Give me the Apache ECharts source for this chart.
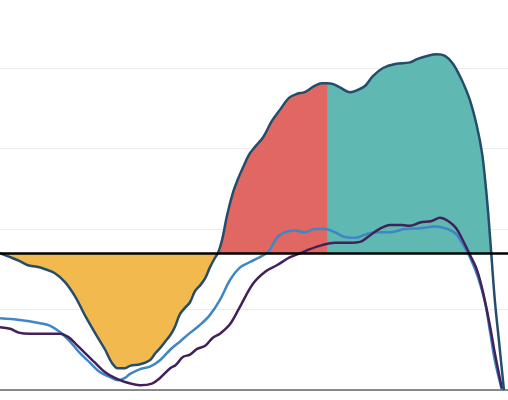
<!DOCTYPE html>
<html>
<head>
<meta charset="utf-8">
<script src="https://cdn.jsdelivr.net/npm/echarts@6/dist/echarts.min.js"></script>
<style>
  html, body { margin: 0; padding: 0; background: #fff; }
  #main { width: 508px; height: 400px; }
</style>
</head>
<body>
<div id="main"></div>
<script>
// reference level (black line)
var BASE = 1.70;
var Y_MAX = 4.845;

// dark curve (the filled one)
var darkX = [0, 2.0, 3.9, 5.5, 7.3, 8.9, 10.8, 12.8, 14.8, 16.7, 18.7, 20.7, 22.0, 23.2, 24.6, 25.6,
  27.6, 29.5, 30.5, 31.5, 32.5, 33.5, 34.4, 35.4, 36.4, 37.4, 38.4, 39.4, 40.4, 41.3, 42.3, 42.9,
  43.7, 44.7, 45.9, 46.9, 47.8, 49.0, 50.2, 51.8, 53.5, 55.1, 56.9, 58.5, 60.0, 62.0, 63.4, 64.4,
  65.6, 66.9, 68.9, 70.5, 71.9, 73.4, 75.4, 77.8, 80.7, 82.1, 84.1, 86.0, 87.6, 89.2, 90.9, 92.5,
  93.9, 94.9, 95.5, 96.1, 96.7, 97.4, 98.4, 99.2];
var darkY = [1.70, 1.65, 1.60, 1.55, 1.53, 1.50, 1.45, 1.34, 1.16, 0.93, 0.71, 0.50, 0.34, 0.27, 0.27, 0.30,
  0.32, 0.37, 0.45, 0.52, 0.60, 0.68, 0.78, 0.94, 1.02, 1.09, 1.23, 1.30, 1.39, 1.52, 1.64, 1.70,
  1.86, 2.17, 2.46, 2.63, 2.76, 2.92, 3.02, 3.14, 3.34, 3.48, 3.63, 3.68, 3.70, 3.78, 3.81, 3.81,
  3.80, 3.76, 3.70, 3.73, 3.78, 3.90, 4.00, 4.05, 4.07, 4.11, 4.15, 4.17, 4.15, 4.05, 3.85, 3.60,
  3.27, 2.94, 2.61, 2.20, 1.70, 1.12, 0.50, 0];

// light blue curve
var blueX = [0, 3.9, 7.9, 9.8, 11.8, 13.8, 15.7, 17.7, 19.7, 21.7, 23.2, 24.6, 25.6, 27.6, 29.5, 31.5,
  33.5, 35.4, 37.4, 39.4, 41.3, 43.3, 45.3, 47.2, 49.2, 50.8, 52.2, 53.1, 54.5, 56.1, 58.1, 60.0,
  62.0, 64.0, 65.9, 67.9, 69.9, 71.9, 73.8, 76.8, 79.7, 82.7, 85.6, 87.6, 89.6, 90.9, 92.5, 94.1,
  95.5, 96.5, 97.4, 98.8];
var blueY = [0.89, 0.87, 0.83, 0.80, 0.72, 0.60, 0.46, 0.34, 0.22, 0.16, 0.12, 0.15, 0.20, 0.26, 0.29, 0.37,
  0.50, 0.60, 0.71, 0.81, 0.93, 1.12, 1.37, 1.52, 1.59, 1.64, 1.69, 1.74, 1.89, 1.96, 1.98, 1.96,
  2.00, 2.00, 1.96, 1.90, 1.89, 1.93, 1.96, 1.96, 2.00, 2.01, 2.03, 2.01, 1.95, 1.83, 1.65, 1.40,
  1.08, 0.71, 0.37, 0];

// purple curve
var purpleX = [0, 2.0, 3.9, 5.9, 7.9, 9.8, 11.8, 13.4, 14.8, 16.7, 18.7, 20.7, 22.6, 24.6, 27.6, 29.9,
  31.5, 33.5, 34.6, 36.0, 37.4, 38.8, 40.4, 41.9, 43.3, 45.3, 47.2, 49.8, 52.2, 54.5, 57.1, 59.1,
  61.0, 63.4, 65.9, 68.9, 70.9, 72.4, 74.4, 76.8, 79.1, 80.7, 82.7, 85.0, 86.6, 88.2, 89.8, 91.1,
  92.5, 93.9, 95.1, 96.5, 97.4, 98.8];
var purpleY = [0.78, 0.76, 0.71, 0.70, 0.70, 0.70, 0.70, 0.66, 0.58, 0.46, 0.34, 0.22, 0.15, 0.10, 0.06, 0.08,
  0.15, 0.27, 0.31, 0.41, 0.44, 0.51, 0.55, 0.65, 0.70, 0.82, 1.03, 1.32, 1.47, 1.55, 1.65, 1.70,
  1.75, 1.80, 1.83, 1.83, 1.84, 1.90, 1.99, 2.05, 2.05, 2.04, 2.08, 2.10, 2.14, 2.10, 2.01, 1.86,
  1.68, 1.49, 1.21, 0.78, 0.46, 0.02];

// fill segments: [from, to] on the x axis (red runs a step further, under the teal)
var fillRanges = [[0, 42.9], [42.9, 65.6], [64.4, 96.7]];
var fillColors = ['#f2b94f', '#e06762', '#5fb8b1'];

function pairs(xs, ys) {
  return xs.map(function (x, i) { return [x, ys[i]]; });
}
function slice(xs, ys, a, b) {
  var out = [];
  xs.forEach(function (x, i) {
    if (x >= a && x <= b) out.push([x, ys[i]]);
  });
  return out;
}

var SMOOTH = 0.35;
var series = [];

fillColors.forEach(function (c, k) {
  series.push({
    type: 'line',
    data: slice(darkX, darkY, fillRanges[k][0], fillRanges[k][1]),
    smooth: SMOOTH,
    showSymbol: false,
    silent: true,
    z: 1,
    lineStyle: { width: 0, opacity: 0 },
    areaStyle: { origin: BASE, color: c, opacity: 1 }
  });
});

// black reference line
series.push({
  type: 'line',
  data: [],
  z: 2,
  markLine: {
    silent: true,
    symbol: ['none', 'none'],
    label: { show: false },
    lineStyle: { color: '#000', width: 2.5, type: 'solid' },
    data: [{ yAxis: BASE }]
  }
});

series.push({
  type: 'line',
  data: pairs(blueX, blueY),
  smooth: SMOOTH,
  showSymbol: false,
  z: 3,
  lineStyle: { color: '#3f86c4', width: 2.5 }
});
series.push({
  type: 'line',
  data: pairs(purpleX, purpleY),
  smooth: SMOOTH,
  showSymbol: false,
  z: 3,
  lineStyle: { color: '#42215a', width: 2.5 }
});
series.push({
  type: 'line',
  data: pairs(darkX, darkY),
  smooth: SMOOTH,
  showSymbol: false,
  z: 4,
  lineStyle: { color: '#244d6c', width: 2.5 }
});

var chart = echarts.init(document.getElementById('main'));
chart.setOption({
  animation: false,
  grid: { left: 0, right: 0, top: 0, bottom: 10 },
  xAxis: {
    type: 'value',
    min: 0,
    max: 100,
    axisLabel: { show: false },
    axisTick: { show: false },
    splitLine: { show: false },
    axisLine: { lineStyle: { color: '#666', width: 1.5 } }
  },
  yAxis: {
    type: 'value',
    min: 0,
    max: Y_MAX,
    interval: 1,
    axisLabel: { show: false },
    axisTick: { show: false },
    axisLine: { show: false },
    splitLine: { showMaxLine: false, lineStyle: { color: '#ececec', width: 1 } }
  },
  series: series
});
</script>
</body>
</html>
